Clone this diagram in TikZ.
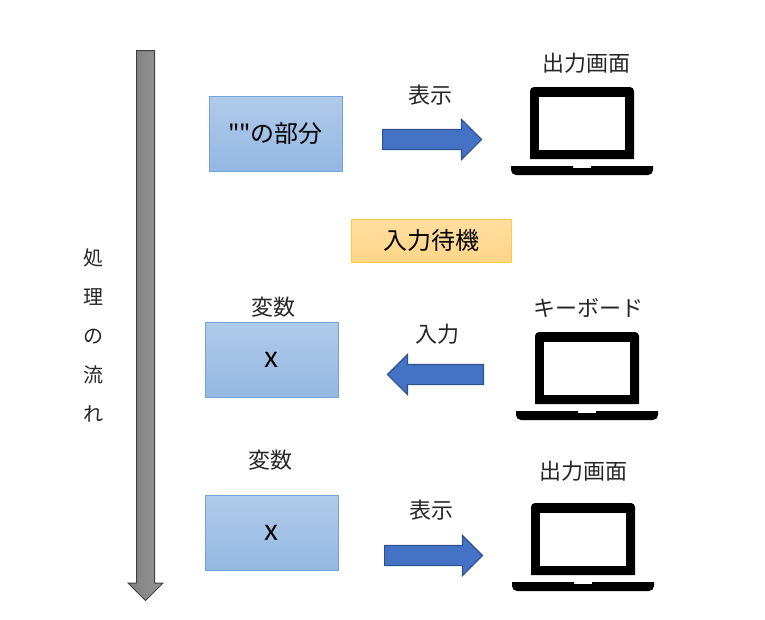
\documentclass[tikz,border=0pt]{standalone}
\usepackage{fontspec}
\setmainfont{Noto Sans CJK JP}
\newfontfamily\quotefont{Noto Sans CJK JP}
\usetikzlibrary{shapes.arrows, positioning}
\definecolor{boxtop}{HTML}{B1CAE9}
\definecolor{boxbot}{HTML}{93B8E3}
\definecolor{boxline}{HTML}{6FA5DB}
\definecolor{waittop}{HTML}{FFDE9F}
\definecolor{waitbot}{HTML}{FFD587}
\definecolor{waitline}{HTML}{FFCB45}
\definecolor{arrowfill}{HTML}{4472C4}
\definecolor{arrowline}{HTML}{2F528F}
\definecolor{labeltext}{HTML}{262626}
\tikzset{
  laptop/.pic={
    \fill[black] (0,72) [rounded corners=4pt] -- (0,0) -- (104,0) [sharp corners] -- (104,72) -- cycle;
    \fill[white] (9,9.5) rectangle (95,63);
    \fill[black] (-19,79) -- (43,79) -- (43,81) -- (61,81) -- (61,79) -- (123,79)
      [rounded corners=5pt] -- (123,88) -- (-19,88) [sharp corners] -- cycle;
  }
}
\begin{document}
\begin{tikzpicture}[
  x=1pt, y=-1pt,
  every node/.style={font=\fontsize{22}{26}\selectfont, text=labeltext},
  block/.style={draw=boxline, top color=boxtop, bottom color=boxbot, minimum width=133pt, minimum height=75pt,
    inner sep=0pt, font=\fontsize{24}{28}\selectfont, text=black},
  wait/.style={draw=waitline, top color=waittop, bottom color=waitbot, minimum width=160pt, minimum height=43pt,
    inner sep=0pt, font=\fontsize{24}{28}\selectfont, text=black},
  flow/.style={single arrow, draw=arrowline, fill=arrowfill, line width=1.2pt, inner xsep=0pt, inner ysep=9.5pt,
    single arrow head extend=10pt, single arrow tip angle=90, single arrow head indent=0pt, anchor=tail},
  label/.style={inner sep=0pt},
  varname/.style={font=\fontsize{28}{32}\selectfont}
]
\useasboundingbox (0,0) rectangle (765,619);

% Timeline
\node[single arrow, draw=black!75, left color=black!50, right color=black!42, line width=1pt, inner sep=8.5pt,
  minimum height=550pt, single arrow head extend=8.5pt, single arrow tip angle=90,
  single arrow head indent=0pt, shape border rotate=270, anchor=tail] (timeline) at (145.5,50) {};
\node[label, align=center, font=\fontsize{20}{39}\selectfont] (flowtext) at (93,335) {処\\理\\の\\流\\れ};

% Boxes
\node[block] (message) at (275.5,133.5) {{\quotefont ""}の部分};
\node[wait] (waiting) at (431,240.5) {入力待機};
\node[block, varname] (varone) at (271.5,359.5) {x};
\node[block, varname] (vartwo) at (271.5,533) {x};

% Laptops
\pic (screenone) at (530,87) {laptop};
\pic (keyboard) at (535,332) {laptop};
\pic (screentwo) at (531,503) {laptop};

% Arrows
\node[flow, minimum height=99pt] (showone) at (382,139.5) {};
\node[flow, minimum height=96pt, shape border rotate=180] (input) at (484,374.5) {};
\node[flow, minimum height=98pt] (showtwo) at (384,555.5) {};

% Labels
\node[label] (screenonetext) at (586,63) {出力画面};
\node[label] (showonetext) at (430,95) {表示};
\node[label] (varonetext) at (273,307) {変数};
\node[label] (keyboardtext) at (588,308) {キーボード};
\node[label] (inputtext) at (437,334) {入力};
\node[label] (vartwotext) at (270,460) {変数};
\node[label] (showtwotext) at (431,510) {表示};
\node[label] (screentwotext) at (583,471) {出力画面};
\end{tikzpicture}
\end{document}
